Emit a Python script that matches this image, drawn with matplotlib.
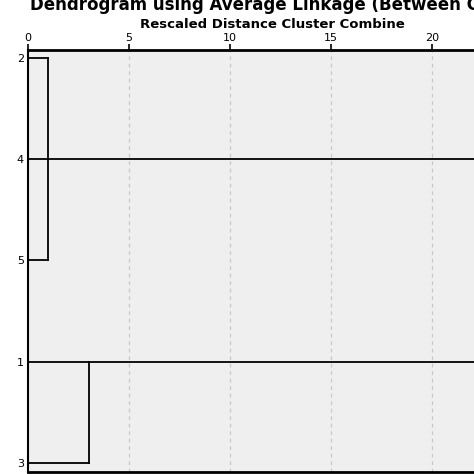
import matplotlib
matplotlib.use("Agg")
import matplotlib.pyplot as plt

leaves = ["2", "4", "5", "1", "3"]
merge_25 = 1.0   # 2 & 5
merge_13 = 3.0   # 1 & 3
final = 25.0
ticks = [0, 5, 10, 15, 20]

fig = plt.figure(figsize=(4.74, 4.74), dpi=100)
ax = fig.add_axes([28/474, 2/474, 1 - 28/474, 422/474])
ax.set_facecolor("#efefef")
ax.set_xlim(0, 22.08)
ax.set_ylim(4.09, -0.08)
for t in ticks[1:]:
    ax.axvline(t, color="#c8c8c8", ls=(0, (3, 3)), lw=0.9, zorder=0)

k = dict(color="black", lw=1.3)
ax.plot([0, merge_25], [0, 0], **k)
ax.plot([0, merge_25], [2, 2], **k)
ax.plot([merge_25, merge_25], [0, 2], **k)
ax.plot([merge_25, final], [1, 1], **k)
ax.plot([0, merge_25], [1, 1], **k)
ax.plot([0, merge_13], [3, 3], **k)
ax.plot([0, merge_13], [4, 4], **k)
ax.plot([merge_13, merge_13], [3, 4], **k)
ax.plot([merge_13, final], [3, 3], **k)

ax.xaxis.tick_top()
ax.set_xticks(ticks)
ax.set_xticklabels([str(t) for t in ticks], fontsize=8)
ax.set_yticks(range(len(leaves)))
ax.set_yticklabels(leaves, fontsize=8)
ax.tick_params(axis="y", length=0, pad=3)
ax.tick_params(axis="x", length=4, width=1.2, pad=1)
ax.spines["right"].set_visible(False)
ax.spines["top"].set_linewidth(2)
ax.spines["left"].set_linewidth(1.5)
ax.spines["bottom"].set_linewidth(2)

fig.text(30/474, 1 - 5/474, "Dendrogram using Average Linkage (Between Groups)",
         fontsize=12, fontweight="bold", ha="left", va="center")
fig.text(140/474, 1 - 24/474, "Rescaled Distance Cluster Combine",
         fontsize=9.5, fontweight="bold", ha="left", va="center")
fig.savefig("out.png", dpi=100, facecolor="white")
